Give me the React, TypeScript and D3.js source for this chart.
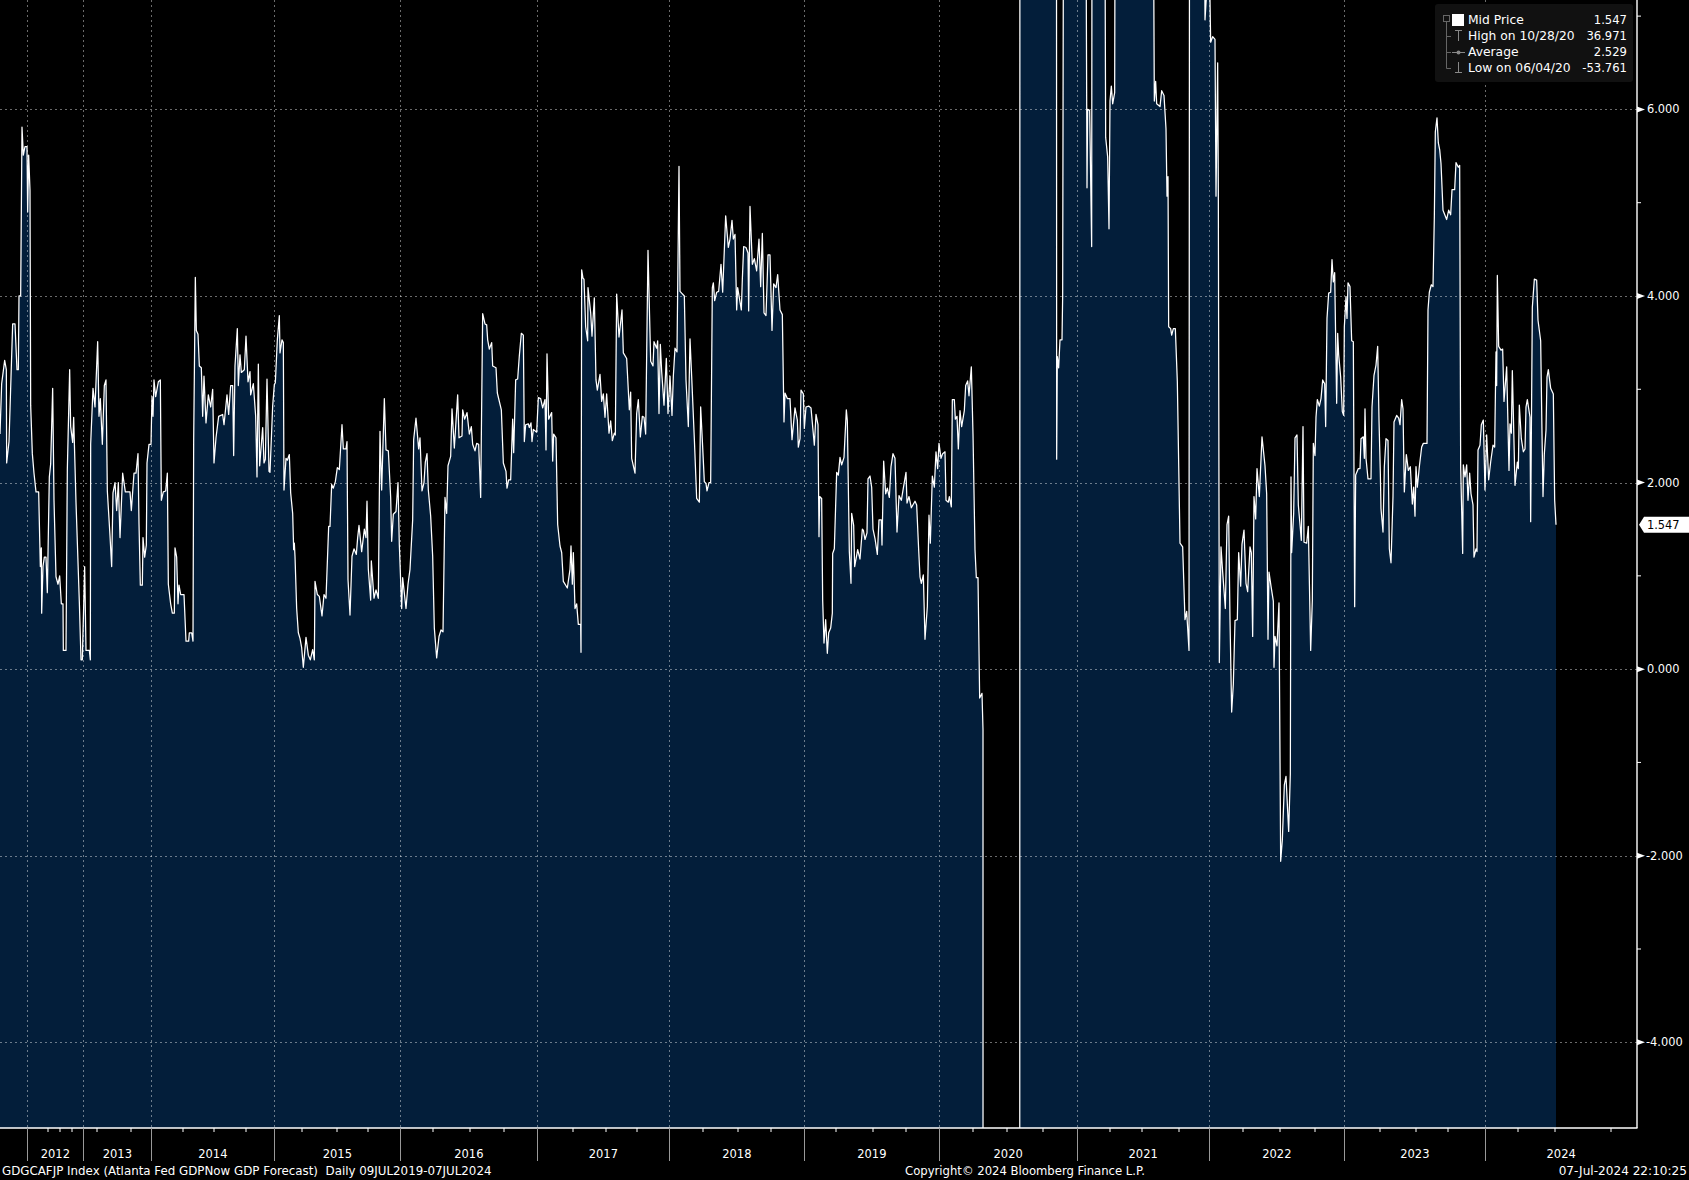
import React from "react";
import * as d3 from "d3";

// Observation numbers run along the time axis; each group restarts from its own base number.
const base2012: [number, number][] = [
[0,2.52],[5,3.06],[14,3.31],[19,3.21],[20,2.21],[27,2.44],[33,3.13],[38,3.7],[45,3.7],[51,3.21],[55,3.21],[57,4.0],[62,4.0],[66,5.81],[70,5.51],[75,5.6],[81,5.6],[83,4.9],[86,5.51],[90,5.13],[92,2.83],[97,2.31],[102,2.1],[108,1.9],[116,1.9],[121,1.1],[124,1.3],[125,0.6],[129,1.1],[133,1.2],[138,1.2],[142,0.82],[148,2.06],[152,2.2],[158,3.01],[162,1.81],[168,0.99],[174,0.91],[179,1.0],[184,0.7],[189,0.7],[190,0.2],[198,0.2],[202,2.14],[209,3.21],[212,2.6],[218,2.43],[221,2.7],[228,1.79],[238,0.72],[243,0.1],[247,0.1],[254,1.1],[258,0.2],[268,0.2],[271,0.1],[272,2.41],[279,3.01],[285,2.81],[293,3.51],[297,2.71],[301,2.9],[307,2.41],[313,3.04],[318,3.1],[322,1.91],[330,1.43],[335,1.1],[339,1.89],[345,2.0],[350,1.7],[355,2.0],[360,1.41],[368,2.1],[376,1.9],[390,1.9],[394,1.7],[402,2.1],[408,2.1],[414,2.31],[417,1.56],[421,0.9],[427,0.9],[429,1.41],[434,1.2],[439,1.33],[441,2.21],[447,2.41],[453,2.41],[456,2.92],[459,2.71],[462,3.1],[467,2.92],[475,3.08],[481,3.1],[484,1.81],[490,1.9],[497,1.91],[502,2.1],[505,0.91],[512,0.7],[517,0.6],[523,0.6],[525,1.3],[530,1.2],[534,0.7],[537,0.9],[542,0.8],[552,0.8],[558,0.3],[566,0.3],[568,0.39],[575,0.39],[579,0.3],[581,2.44],[586,4.2],[589,3.63],[594,3.59],[598,3.25],[604,3.23],[608,2.71],[612,3.14],[618,2.64],[625,2.94],[632,2.81],[638,3.0],[642,2.21],[648,2.48],[656,2.71],[668,2.73],[672,2.62],[681,2.94],[686,2.73],[692,3.04],[698,3.04],[701,2.29],[705,3.25],[712,3.65],[715,3.04],[720,3.37],[724,3.18],[733,3.21],[738,3.57],[744,3.08],[750,3.19],[752,2.94],[760,3.06],[767,2.71],[771,2.06],[775,3.27],[779,2.18]];

const base2015: [number, number][] = [
[8,2.59],[12,2.21],[16,2.25],[21,3.11],[27,2.12],[30,2.11],[38,2.82],[43,3.05],[46,3.07],[52,3.53],[58,3.79],[60,3.39],[66,3.53],[70,3.5],[72,1.92],[78,2.26],[82,2.24],[88,2.3],[92,1.89],[98,1.67],[101,1.28],[103,1.35],[105,1.21],[110,0.65],[115,0.39],[120,0.33],[125,0.23],[130,0.02],[138,0.34],[145,0.15],[151,0.1],[158,0.21],[163,0.1],[165,0.94],[172,0.8],[178,0.78],[186,0.57],[192,0.8],[198,0.76],[206,1.53],[210,1.53],[215,1.98],[220,1.94],[226,2.01],[232,2.16],[238,2.14],[246,2.62],[250,2.36],[258,2.36],[261,2.44],[264,0.96],[270,0.58],[276,1.21],[282,1.29],[289,1.23],[293,1.41],[297,1.54],[305,1.26],[313,1.5],[318,1.41],[321,1.8],[325,1.07],[332,0.74],[334,1.16],[342,0.76],[348,0.85],[355,0.76],[360,2.55],[365,1.92],[373,2.9],[378,2.35],[385,2.34],[392,1.84],[395,1.37],[400,1.66],[408,1.69],[414,2.0],[418,1.33],[425,0.65],[428,0.98],[438,0.65],[444,0.91],[450,1.07],[458,1.6],[461,2.46],[468,2.69],[476,2.36],[480,2.48],[486,1.91],[492,2.0],[496,2.22],[501,2.31],[505,1.92],[512,1.64],[518,1.21],[523,0.44],[530,0.12],[537,0.35],[543,0.42],[549,0.4],[555,1.84],[560,1.67],[564,2.18],[572,2.28],[576,2.79],[583,2.37],[593,2.94],[597,2.48],[606,2.5],[608,2.78],[614,2.68],[621,2.75],[628,2.52],[634,2.6],[638,2.41],[645,2.34],[650,2.42],[656,2.41],[662,1.84],[668,3.81],[675,3.7],[680,3.69],[683,3.53],[688,3.43],[695,3.5],[698,3.25],[708,3.23],[712,2.96],[724,2.78],[730,2.21],[738,2.12],[741,1.94],[746,2.03],[752,2.03],[758,2.68],[761,2.32],[767,3.1],[773,3.11],[778,3.36],[784,3.6],[790,3.58],[793,2.44],[797,2.62],[805,2.63],[808,2.59],[813,2.64],[816,2.44],[820,2.57],[830,2.54],[835,2.91],[842,2.9],[848,2.8],[855,2.89],[858,2.35],[861,3.38],[866,2.68],[875,2.75],[878,2.23],[881,2.52],[888,2.48],[893,1.55],[900,1.32],[905,1.25],[910,0.94],[922,0.87],[930,1.07],[933,1.32],[937,0.91],[940,1.25],[945,0.65],[950,0.7],[955,0.48],[962,0.48],[963,0.18]];

const base2017: [number, number][] = [
[5,4.28],[9,4.19],[12,4.18],[17,3.67],[23,3.52],[24,4.09],[32,3.82],[36,3.57],[43,3.98],[48,3.1],[52,2.99],[60,3.16],[65,2.87],[70,2.95],[75,2.7],[80,2.95],[87,2.53],[92,2.66],[97,2.45],[103,2.53],[106,2.51],[110,4.02],[117,3.56],[126,3.85],[130,3.39],[140,3.33],[148,2.78],[152,2.97],[155,2.26],[165,2.1],[170,2.74],[175,2.89],[181,2.49],[187,2.71],[192,2.7],[197,2.52],[204,4.49],[212,3.3],[219,3.25],[222,3.51],[230,3.44],[233,3.52],[237,2.74],[241,3.48],[245,3.19],[252,2.83],[259,3.33],[264,2.74],[270,3.14],[276,2.72],[280,3.14],[285,3.44],[291,3.4],[297,5.39],[300,4.05],[305,4.03],[313,4.0],[318,3.1],[325,2.6],[330,3.54],[335,3.14],[343,2.47],[350,1.83],[358,1.79],[362,2.81],[368,2.38],[373,2.01],[378,1.99],[381,1.91],[387,2.0],[392,2.0],[397,4.09],[400,4.14],[404,3.95],[410,4.04],[416,4.05],[423,4.34],[428,4.04],[437,4.86],[445,4.52],[450,4.61],[456,4.81],[460,4.61],[465,4.66],[470,3.85],[473,4.09],[484,3.85],[487,4.18],[491,4.53],[498,4.52],[504,4.46],[506,3.84],[510,4.96],[517,4.34],[523,4.4],[530,4.27],[537,4.61],[542,4.1],[547,4.67],[552,3.82],[558,3.79],[564,4.44],[570,4.44],[576,3.63],[581,4.13],[588,4.09],[593,4.23],[600,3.85],[607,3.8],[612,2.65],[615,2.96],[622,2.9],[630,2.9],[636,2.46],[645,2.8],[652,2.67],[655,2.38],[660,2.47],[663,2.99],[670,2.95],[673,2.58],[678,2.81],[686,2.82],[693,2.8],[703,2.4],[708,2.73],[714,2.62]];

const base2019: [number, number][] = [
[57,1.42],[59,1.85],[65,1.83],[68,0.74],[72,0.28],[77,0.53],[82,0.17],[86,0.39],[92,0.44],[97,0.6],[98,1.24],[103,1.29],[110,2.11],[115,2.08],[120,2.27],[125,2.19],[132,2.27],[139,2.78],[142,2.66],[148,1.26],[153,0.92],[155,1.67],[161,1.54],[164,1.1],[173,1.28],[180,1.18],[187,1.5],[190,1.49],[195,1.39],[201,1.46],[204,2.04],[210,2.07],[215,1.95],[219,1.5],[225,1.4],[232,1.23],[237,1.6],[244,1.6],[246,1.33],[251,2.23],[257,1.88],[262,1.94],[268,1.84],[273,2.17],[279,2.31],[285,2.26],[291,1.47],[297,1.86],[304,1.81],[310,1.94],[318,2.11],[321,1.78],[327,1.85],[334,1.73],[345,1.8],[350,1.76],[356,1.28],[360,0.99],[364,0.92],[370,1.01],[375,0.32],[382,0.67],[387,1.65],[391,1.35],[397,2.07],[403,1.95],[408,2.33],[413,2.15],[417,2.42],[423,2.26],[428,2.31],[435,2.33],[438,1.81],[445,1.79],[448,1.85],[454,1.74],[457,2.89],[463,2.89],[466,2.68],[471,2.71],[475,2.36],[480,2.77],[485,2.6],[493,2.77],[497,3.04],[503,3.09],[507,2.93],[514,3.24],[519,2.52],[525,1.28],[529,0.98],[534,0.98],[539,-0.31],[546,-0.26],[549,-0.65],[550,-53.76]];

const base2021: [number, number][] = [
[-62,-53.76],[-60,22],[-20,31],[0,36.97],[40,19],[49,14],[50,2.25],[52,3.35],[56,3.23],[60,3.53],[66,3.53],[68,4.0],[72,11],[110,17],[136,10],[141,5.16],[143,6.0],[149,5.99],[155,4.53],[157,12],[180,14],[193,10],[197,5.7],[203,5.49],[207,4.72],[210,6.09],[214,6.25],[218,6.06],[224,6.18],[227,11],[280,20],[339,9],[343,6.09],[347,6.3],[350,6.06],[360,6.03],[365,6.2],[372,6.15],[378,5.79],[381,5.07],[384,5.28],[386,3.67],[392,3.65],[395,3.58],[400,3.65],[406,3.65],[412,3.08],[420,1.35],[428,1.31],[435,0.53],[440,0.62],[443,0.44],[447,0.2],[450,16],[470,21],[492,9],[495,6.96],[498,7.14],[505,7.5],[509,7.4],[512,6.72],[518,6.78],[525,6.75],[528,5.07],[533,6.5],[535,5.13],[538,0.07],[543,1.31],[548,1.04],[556,0.65],[561,1.55],[566,1.64],[570,0.53],[575,-0.46],[580,-0.16],[585,0.52],[592,0.53],[596,1.25],[602,0.89],[606,1.34],[612,1.49],[618,0.92],[623,0.83],[630,1.31],[634,1.25],[638,0.35],[642,1.85],[647,1.61],[651,2.15],[658,1.85],[666,2.49],[675,2.18],[680,1.88],[684,0.32],[687,1.04],[693,0.89],[700,0.73],[702,0.02],[705,0.35],[711,0.25],[717,0.71],[722,-2.06],[727,-1.83],[733,-1.24],[738,-1.15],[746,-1.74],[751,-1.12],[753,2.06],[755,1.25],[761,1.67],[765,2.48],[771,2.51],[775,1.76],[780,1.55]];

const base2023: [number, number][] = [
[4,1.38],[9,2.6],[12,1.36],[20,1.35],[25,1.53],[32,0.2],[37,0.74],[40,2.42],[45,2.29],[48,2.7],[52,2.89],[58,2.82],[63,2.9],[68,3.1],[74,3.06],[77,2.6],[81,3.76],[86,4.03],[92,4.04],[96,4.39],[100,4.15],[104,4.25],[110,2.85],[113,3.6],[116,3.37],[122,3.13],[127,2.76],[131,2.72],[133,3.67],[138,3.99],[141,3.76],[144,4.14],[150,4.1],[155,3.52],[160,3.51],[164,0.67],[167,2.08],[175,2.15],[180,2.15],[183,2.47],[190,2.49],[193,2.26],[195,2.79],[198,2.26],[204,2.04],[213,2.04],[216,2.81],[222,3.15],[228,3.26],[233,3.46],[237,2.67],[241,2.1],[243,1.72],[249,1.47],[253,2.17],[258,2.47],[264,2.45],[268,1.29],[273,1.14],[279,1.85],[282,2.65],[290,2.72],[296,2.69],[300,2.62],[305,2.89],[309,2.79],[313,1.9],[319,2.3],[325,2.13],[331,2.17],[337,1.77],[341,1.95],[345,1.64],[348,2.17],[352,1.95],[358,2.17],[365,2.38],[370,2.42],[381,2.42],[384,3.85],[388,4.04],[394,4.12],[399,4.1],[403,4.85],[406,5.76],[411,5.91],[415,5.64],[419,5.57],[423,5.42],[429,4.92],[440,4.82],[446,4.92],[452,4.87],[456,5.14],[464,5.14],[468,5.43],[475,5.38],[479,5.4],[482,2.17],[488,1.24],[490,2.19],[495,2.06],[500,2.19],[504,1.81],[509,2.1],[513,1.88],[519,1.76],[522,1.2],[528,1.29],[531,1.26],[534,2.35],[540,2.4],[544,2.62],[550,2.67],[555,1.92],[560,2.51],[566,2.03],[572,2.22],[579,2.4],[584,2.38],[588,3.4],[590,3.04],[592,4.22],[596,3.46],[603,3.42],[608,3.43],[612,2.87],[620,3.24],[627,2.13],[630,2.63],[634,2.53],[637,3.2],[645,1.97],[652,2.22],[655,2.15],[658,2.83],[664,2.47],[670,2.33],[675,2.36],[678,2.81],[682,2.89],[690,2.7],[692,1.58],[697,3.88],[703,4.18],[710,4.17],[714,3.74],[722,3.52],[726,2.53],[729,1.85],[733,2.31],[738,2.56],[741,3.13],[745,3.21],[752,3.01],[760,2.95],[764,1.81],[768,1.547]];

const groupBases = [0, 780, 1740, 2400, 3120, 3900];
const groups = [base2012, base2015, base2017, base2019, base2021, base2023];
const series: [number, number][] = groups.flatMap((g, i) =>
  g.map(([o, v]) => [o + groupBases[i], v] as [number, number])
);

const yearLabels = ["2012", "2013", "2014", "2015", "2016", "2017", "2018", "2019", "2020", "2021", "2022", "2023", "2024"];
const yearStarts = [82, 250, 454, 823, 1201, 1612, 2008, 2413, 2818, 3231, 3628, 4033, 4456];
const minorTicks = [144, 180, 216, 291, 393, 549, 642, 738, 906, 1011, 1104, 1299, 1410, 1512, 1719, 1818, 1911, 2109, 2214, 2313, 2508, 2619, 2718, 2919, 3021, 3129, 3330, 3426, 3537, 3729, 3840, 3945, 4140, 4248, 4344, 4554, 4665, 4833];
const yMajor = [6, 4, 2, 0, -2, -4];
const yMinor = [7, 5, 3, 1, -1, -3];
const lastValue = 1.547;
const legendRows = [
  ["Mid Price", "1.547"],
  ["High on 10/28/20", "36.971"],
  ["Average", "2.529"],
  ["Low on 06/04/20", "-53.761"],
];

const W = 1689, H = 1180, plotR = 1637, plotB = 1128;
const FONT = "'DejaVu Sans', sans-serif";

export default function App() {
  const x = d3.scaleLinear().domain([0, 4911]).range([0, plotR]);
  const y = d3.scaleLinear().domain([-4, 6]).range([1042.3, 109.4]);
  const area = d3.area<[number, number]>().x(d => x(d[0])).y0(plotB).y1(d => y(d[1]));
  const line = d3.line<[number, number]>().x(d => x(d[0])).y(d => y(d[1]));
  const yearEnds = [...yearStarts.slice(1), 4911];
  const ly = y(lastValue);

  return (
    <svg width={W} height={H} style={{ position: "absolute", left: 0, top: 0, background: "#000", display: "block" }} fontFamily={FONT}>
      <defs>
        <clipPath id="plot"><rect x={0} y={0} width={plotR} height={plotB} /></clipPath>
      </defs>
      <path d={area(series) ?? ""} fill="#031e3a" clipPath="url(#plot)" />
      {yMajor.map(v => (
        <line key={v} x1={0} x2={plotR} y1={Math.round(y(v)) + 0.5} y2={Math.round(y(v)) + 0.5} stroke="#fff" strokeOpacity={0.42} strokeDasharray="2 3" />
      ))}
      {yearStarts.map(v => (
        <line key={v} x1={Math.floor(x(v)) + 0.5} x2={Math.floor(x(v)) + 0.5} y1={0} y2={plotB} stroke="#fff" strokeOpacity={0.42} strokeDasharray="2 3" />
      ))}
      <path d={line(series) ?? ""} fill="none" stroke="#fff" strokeWidth={1.25} strokeLinejoin="round" clipPath="url(#plot)" />

      {/* axes */}
      <line x1={0} x2={plotR + 0.5} y1={plotB} y2={plotB} stroke="#fff" strokeWidth={1.4} />
      <line x1={plotR} x2={plotR} y1={0} y2={plotB} stroke="#fff" strokeWidth={1.4} />
      {yMinor.map(v => (
        <line key={v} x1={plotR} x2={plotR + 4} y1={y(v)} y2={y(v)} stroke="#fff" />
      ))}
      {yMajor.map(v => (
        <g key={v}>
          <path d={`M${plotR},${y(v) - 3}L${plotR + 8},${y(v)}L${plotR},${y(v) + 3}Z`} fill="#fff" />
          <text x={plotR + (v < 0 ? 9 : 10)} y={y(v) + 4} fontSize={11.4} fill="#fff">{v < 0 ? `-${Math.abs(v).toFixed(3)}` : v.toFixed(3)}</text>
        </g>
      ))}
      {yearStarts.map(v => (
        <line key={v} x1={Math.floor(x(v)) + 0.5} x2={Math.floor(x(v)) + 0.5} y1={plotB} y2={1161} stroke="#999" />
      ))}
      {minorTicks.map(v => (
        <line key={v} x1={x(v)} x2={x(v)} y1={plotB} y2={plotB + 4} stroke="#fff" />
      ))}
      {yearLabels.map((l, i) => (
        <text key={l} x={(x(yearStarts[i]) + x(yearEnds[i])) / 2} y={1158} textAnchor="middle" fontSize={11.5} fill="#fff">{l}</text>
      ))}

      {/* footer */}
      <text x={2} y={1175} fontSize={11.85} fill="#fff" xmlSpace="preserve">GDGCAFJP Index (Atlanta Fed GDPNow GDP Forecast)  Daily 09JUL2019-07JUL2024</text>
      <text x={905} y={1175} fontSize={11.65} fill="#fff">Copyright© 2024 Bloomberg Finance L.P.</text>
      <text x={1687} y={1175} textAnchor="end" fontSize={12.1} fill="#fff">07-Jul-2024 22:10:25</text>

      {/* last price tag */}
      <path d={`M1644,${ly - 8}L${W},${ly - 8}L${W},${ly + 8}L1644,${ly + 8}L1639,${ly}Z`} fill="#fff" />
      <text x={1647} y={ly + 4.2} fontSize={11.4} fill="#000">{lastValue.toFixed(3)}</text>

      {/* legend */}
      <rect x={1435} y={4} width={198} height={78} rx={3} fill="#111" />
      <rect x={1443.5} y={15.5} width={6} height={6} fill="none" stroke="#666" />
      <path d="M1446.5,21.5V68.5H1451M1446.5,36.5H1451M1446.5,52.5H1451" fill="none" stroke="#666" />
      <rect x={1452} y={14} width={12} height={12} fill="#fff" />
      <path d="M1455,30.5H1462M1458.5,30.5V41" fill="none" stroke="#888" />
      <path d="M1452,52.5H1465" fill="none" stroke="#888" />
      <circle cx={1458.5} cy={52.5} r={2} fill="#888" />
      <path d="M1455,72.5H1462M1458.5,62V72.5" fill="none" stroke="#888" />
      {legendRows.map(([a, b], i) => (
        <g key={a}>
          <text x={1468} y={24.2 + i * 16} fontSize={12.3} fill="#fff">{a}</text>
          <text x={1627} y={24.2 + i * 16} fontSize={11.6} textAnchor="end" fill="#fff">{b}</text>
        </g>
      ))}
    </svg>
  );
}
